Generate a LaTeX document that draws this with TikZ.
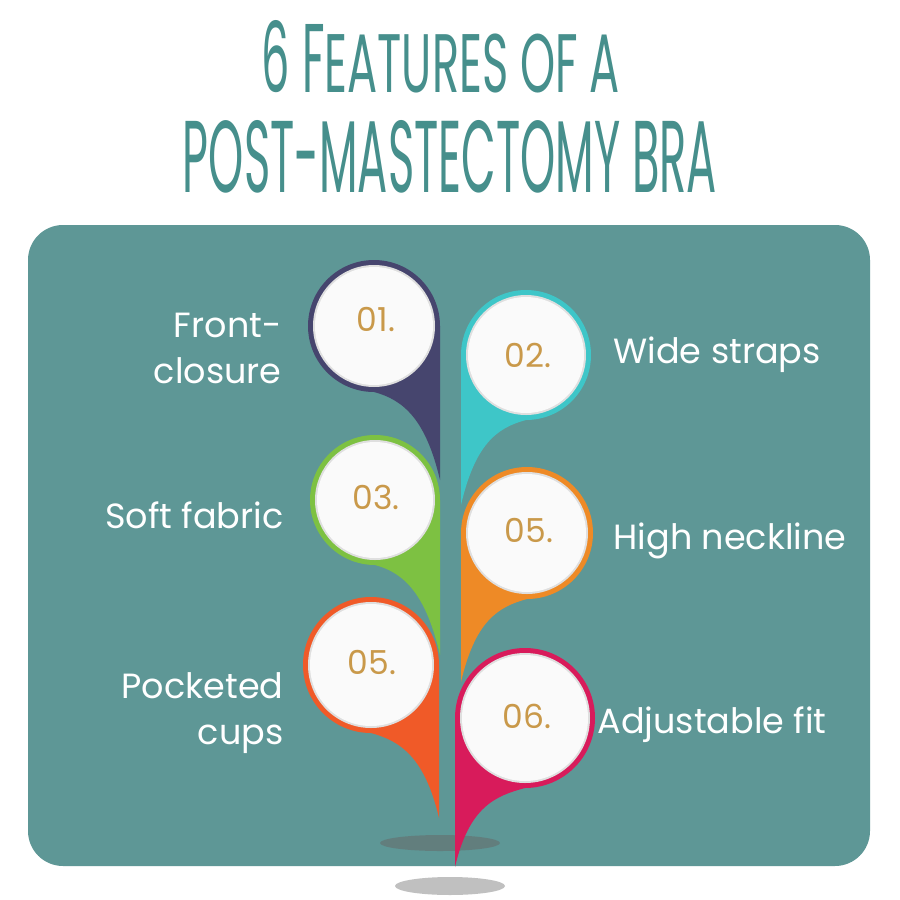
\documentclass[tikz,border=0pt]{standalone}
\usepackage{fontspec}
\setmainfont{Poppins}
\usepackage{graphicx}
\definecolor{panel}{HTML}{5E9796}
\definecolor{titlec}{HTML}{468F8C}
\definecolor{numc}{HTML}{C9994A}
\definecolor{cA}{HTML}{46456E}
\definecolor{cB}{HTML}{3EC6C8}
\definecolor{cC}{HTML}{7DC142}
\definecolor{cD}{HTML}{EE8A26}
\definecolor{cE}{HTML}{F05A28}
\definecolor{cF}{HTML}{D81B5B}
\tikzset{
  lbl/.style={text=white,font=\fontsize{35}{46}\selectfont},
  num/.style={text=numc,font=\fontsize{33}{36}\selectfont},
}
\newcommand{\pinL}[5]{%
  \fill[#5] (#1+#3,#2) -- (#1+#3,#4) .. controls (#1+#3-14,#4-60) and (#1+30,#2+#3+8) .. (#1,#2+#3) -- cycle;
  \fill[#5] (#1,#2) circle[radius=#3];
  \fill[gray!25] (#1,#2) circle[radius=#3-5];
  \fill[white!96!gray] (#1,#2) circle[radius=#3-7];}
\newcommand{\pinR}[5]{%
  \fill[#5] (#1-#3,#2) -- (#1-#3,#4) .. controls (#1-#3+14,#4-60) and (#1-30,#2+#3+8) .. (#1,#2+#3) -- cycle;
  \fill[#5] (#1,#2) circle[radius=#3];
  \fill[gray!25] (#1,#2) circle[radius=#3-5];
  \fill[white!96!gray] (#1,#2) circle[radius=#3-7];}
\begin{document}
\begin{tikzpicture}[x=1pt,y=-1pt]
\useasboundingbox (0,0) rectangle (900,900);
\fill[white] (0,0) rectangle (900,900);
\node[text=titlec] (t1) at (441,57) {\resizebox{358pt}{72pt}{6 F\raisebox{0pt}{\scalebox{1}[0.85]{EATURES OF A}}}};
\node[text=titlec] (t2) at (450,157) {\resizebox{534pt}{72pt}{POST-MASTECTOMY BRA}};
\fill[panel,rounded corners=35pt] (28,225) rectangle (870,866);
\fill[black!60,opacity=0.5] (440,843) ellipse[x radius=60,y radius=8];
\fill[gray!70,opacity=0.7] (450,886) ellipse[x radius=55,y radius=9];
\pinL{374}{326}{66}{480}{cA}
\pinR{526}{355}{65}{505}{cB}
\pinL{375}{500}{65}{655}{cC}
\pinR{527}{533}{66}{682}{cD}
\pinL{371}{665}{68}{818}{cE}
\pinR{525}{718}{70}{867}{cF}
\node[num] (n1) at (376,319) {01.};
\node[num] (n2) at (528,355) {02.};
\node[num] (n3) at (376,497) {03.};
\node[num] (n4) at (529,530) {05.};
\node[num] (n5) at (372,662) {05.};
\node[num] (n6) at (527,716) {06.};
\node[lbl,anchor=east,align=right] (l1) at (285,348) {Front-\\closure};
\node[lbl,anchor=west] (l2) at (610,355) {Wide straps};
\node[lbl,anchor=east] (l3) at (287,515) {Soft fabric};
\node[lbl,anchor=west] (l4) at (610,541) {High neckline};
\node[lbl,anchor=east,align=right] (l5) at (287,713) {Pocketed\\cups};
\node[lbl,anchor=west] (l6) at (594,725) {Adjustable fit};
\end{tikzpicture}
\end{document}
